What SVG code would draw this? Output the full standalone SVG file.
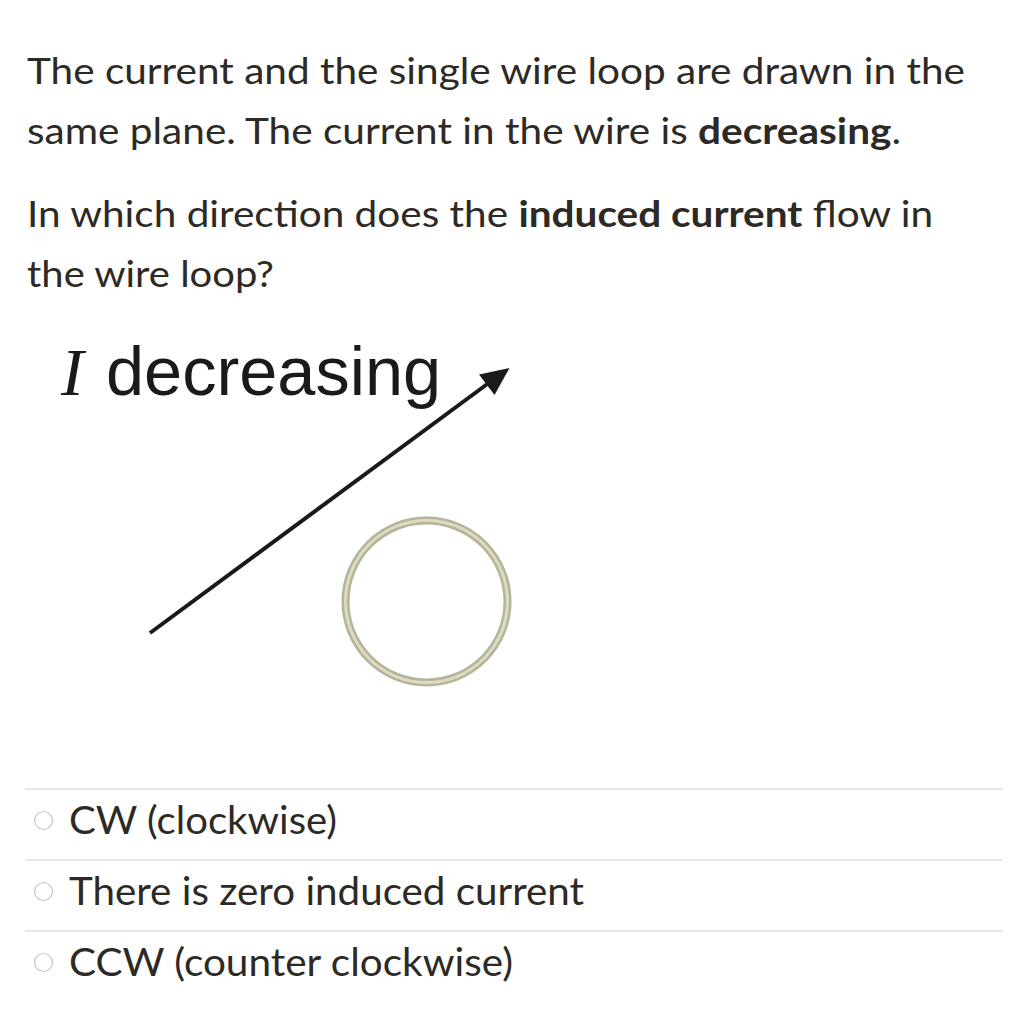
<svg xmlns="http://www.w3.org/2000/svg" width="1024" height="1010" viewBox="0 0 1024 1010">
<style>
.t{font-family:Lato,"Noto Sans",sans-serif;font-size:36.5px;fill:#2d2a26}
.b{font-weight:bold}
.o{font-family:Lato,"Noto Sans",sans-serif;font-size:38px;fill:#2d2a26}
.sep{stroke:#dcdcdc;stroke-width:1.5}
.radio{fill:#fff;stroke:#c4c4c4;stroke-width:1.2}
</style>
<rect width="1024" height="1010" fill="#fff"/>
<g id="question">
<text class="t" x="27" y="84" textLength="938" lengthAdjust="spacingAndGlyphs">The current and the single wire loop are drawn in the</text>
<text class="t" x="27" y="144" textLength="874" lengthAdjust="spacingAndGlyphs">same plane. The current in the wire is <tspan class="b">decreasing</tspan>.</text>
<text class="t" x="27" y="226.5" textLength="906" lengthAdjust="spacingAndGlyphs">In which direction does the <tspan class="b">induced current</tspan> flow in</text>
<text class="t" x="27" y="286.5" textLength="247" lengthAdjust="spacingAndGlyphs">the wire loop?</text>
</g>
<g id="label">
<text x="61" y="395" font-family="'Liberation Serif',serif" font-style="italic" font-size="68" fill="#1a1a1a">I</text>
<text x="106" y="395" font-family="'Liberation Sans',Arial,sans-serif" font-size="68.5" fill="#1a1a1a">decreasing</text>
</g>
<g id="connectors">
<line x1="150" y1="633" x2="490" y2="382" stroke="#1a1a1a" stroke-width="4" stroke-linecap="butt"/>
<path d="M509.5,368 L479,374.5 L494.5,395 z" fill="#1a1a1a"/>
</g>
<g id="loop">
<circle cx="426.5" cy="601.5" r="81" fill="none" stroke="#b5b398" stroke-width="8"/>
<circle cx="426.5" cy="601.5" r="81" fill="none" stroke="#dddbc2" stroke-width="3"/>
</g>
<g id="options">
<line class="sep" x1="25" y1="789" x2="1002" y2="789"/>
<line class="sep" x1="25" y1="860" x2="1002" y2="860"/>
<line class="sep" x1="25" y1="931" x2="1002" y2="931"/>
<circle class="radio" cx="43.5" cy="820.5" r="9"/>
<circle class="radio" cx="43.5" cy="891.5" r="9"/>
<circle class="radio" cx="43.5" cy="962.5" r="9"/>
<text class="o" x="69" y="834" textLength="268" lengthAdjust="spacingAndGlyphs">CW (clockwise)</text>
<text class="o" x="69" y="905" textLength="515" lengthAdjust="spacingAndGlyphs">There is zero induced current</text>
<text class="o" x="69" y="976" textLength="444" lengthAdjust="spacingAndGlyphs">CCW (counter clockwise)</text>
</g>
</svg>
